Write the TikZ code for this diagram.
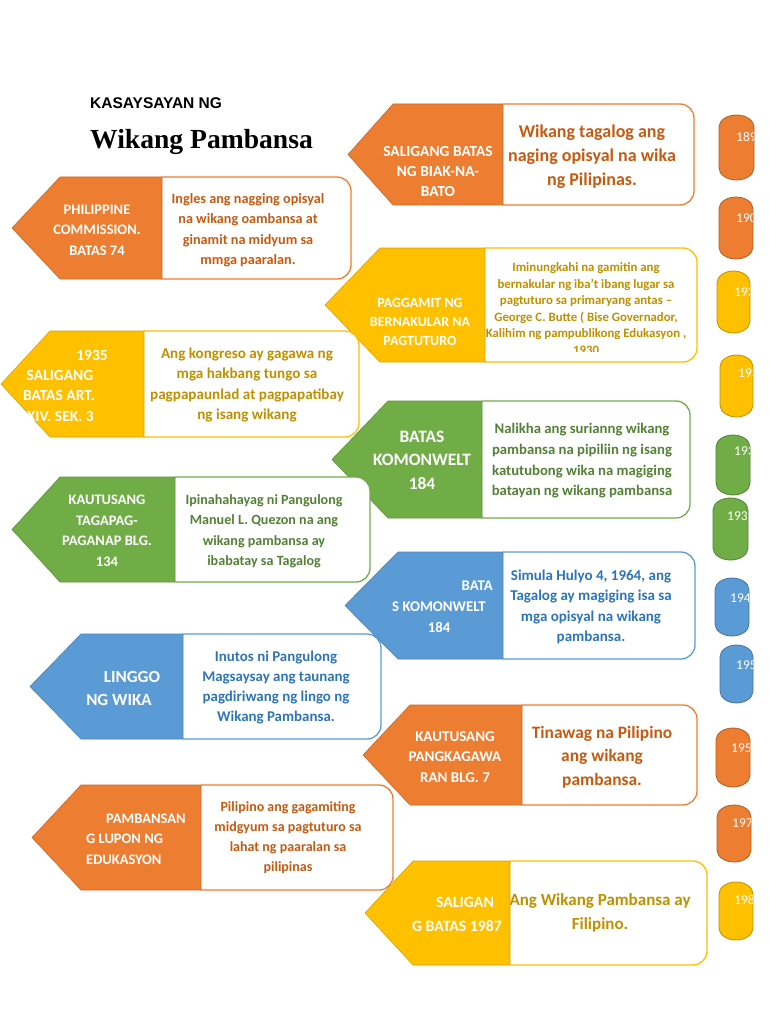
\documentclass[tikz,border=0pt]{standalone}
\usepackage{fontspec}
\setmainfont{Carlito}
\newfontfamily\kfont{Liberation Sans}
\newfontfamily\titlefont{Liberation Serif}
\definecolor{cOr}{HTML}{ED7D31}
\definecolor{cOrT}{HTML}{C55A11}
\definecolor{cYe}{HTML}{FFC000}
\definecolor{cYeT}{HTML}{BF9000}
\definecolor{cGr}{HTML}{70AD47}
\definecolor{cGrT}{HTML}{538135}
\definecolor{cBl}{HTML}{5B9BD5}
\definecolor{cBlT}{HTML}{2E75B6}
\tikzset{
  ctext/.style={text=white, font=\bfseries\fontsize{14.5}{20.5}\selectfont, align=center, inner sep=0pt},
  ctextbig/.style={text=white, font=\bfseries\fontsize{17}{23.5}\selectfont, align=center, inner sep=0pt},
  wtext/.style={font=\bfseries\fontsize{14.5}{20.5}\selectfont, align=center, inner sep=0pt},
  wtextbig/.style={font=\bfseries\fontsize{17.5}{24}\selectfont, align=center, inner sep=0pt},
  ytext/.style={text=white, font=\fontsize{13.5}{15}\selectfont, inner sep=0pt, anchor=west},
  wbox/.style={line width=1.3pt, fill=white, rounded corners=14pt},
  arrowpart/.style={line width=0.6pt},
}
% #1 point x, #2 colour top-left x, #3 colour right x, #4 white right x, #5 top, #6 bottom, #7 colour
\newcommand\tlblock[7]{%
  \path[wbox, draw=#7] (#3,#6) -- (#4,#6) -- (#4,#5) -- (#3,#5);
  \path[arrowpart, fill=#7, draw=#7!85!black] (#1,{(#5+#6)/2}) -- (#2,#5) -- (#3,#5) -- (#3,#6) -- (#2,#6) -- cycle;
}
% #1 left, #2 right, #3 top, #4 bottom, #5 colour, #6 name, #7 text x, #8 text y, #9 year
\newcommand\yearcan[9]{%
  \begin{scope}
    \path[fill=#5, draw=#5!75!black, line width=0.8pt] (#1,#3+12) arc[start angle=180, end angle=360, x radius={(#2-#1)/2}, y radius=12] -- (#2,#4-12) arc[start angle=0, end angle=180, x radius={(#2-#1)/2}, y radius=12] -- cycle;
    \clip (#1,#3) rectangle (#2-0.5,#4);
    \node[ytext] (#6) at (#7,#8) {#9};
  \end{scope}
}
\begin{document}
\begin{tikzpicture}[x=1pt,y=-1pt]
\useasboundingbox[fill=white] (0,0) rectangle (768,1024);

% title
\node[font=\kfont\bfseries\fontsize{15.5}{17}\selectfont, anchor=west, inner sep=0pt] (t1) at (90,103) {KASAYSAYAN NG};
\node[font=\titlefont\bfseries\fontsize{27.6}{32}\selectfont, anchor=west, inner sep=0pt] (t2) at (90,142) {Wikang Pambansa};

% B1
\tlblock{348}{393}{503}{694}{104}{205}{cOr}
\node[ctext, font=\bfseries\fontsize{15.4}{20}\selectfont] (b1c) at (438,172) {SALIGANG BATAS\\NG BIAK-NA-\\BATO};
\node[wtextbig, font=\bfseries\fontsize{18}{24}\selectfont, text=cOrT] (b1w) at (592,157) {Wikang tagalog ang\\naging opisyal na wika\\ng Pilipinas.};

% B2
\tlblock{12}{60}{162}{351}{177}{279}{cOr}
\node[ctext] (b2c) at (97,230) {PHILIPPINE\\COMMISSION.\\BATAS 74};
\node[wtext, font=\bfseries\fontsize{14.2}{20.5}\selectfont, text=cOrT] (b2w) at (248,230) {Ingles ang nagging opisyal\\na wikang oambansa at\\ginamit na midyum sa\\mmga paaralan.};

% B3
\tlblock{325}{380}{485}{697}{248}{362}{cYe}
\node[ctext, font=\bfseries\fontsize{14}{19}\selectfont] (b3c) at (420,322) {PAGGAMIT NG\\BERNAKULAR NA\\PAGTUTURO};
\begin{scope}
\clip (486,249) rectangle (696,351);
\node[font=\bfseries\fontsize{12.8}{16.6}\selectfont, align=center, inner sep=0pt, text=cYeT] (b3w) at (586,308.5) {Iminungkahi na gamitin ang\\bernakular ng iba’t ibang lugar sa\\pagtuturo sa primaryang antas --\\George C. Butte ( Bise Governador,\\Kalihim ng pampublikong Edukasyon ,\\1930};
\end{scope}

% B4
\tlblock{1}{50}{144}{359}{331}{437}{cYe}
\node[ctext, font=\bfseries\fontsize{15.5}{20}\selectfont] (b4a) at (92,355) {1935};
\node[ctext, font=\bfseries\fontsize{15.5}{20}\selectfont] (b4b) at (60,375) {SALIGANG};
\node[ctext, font=\bfseries\fontsize{15.5}{20}\selectfont] (b4c) at (59,395) {BATAS ART.};
\begin{scope}
\clip (27,405) rectangle (140,430);
\node[ctext, font=\bfseries\fontsize{15.5}{20}\selectfont, anchor=east] (b4d) at (94,416) {XIV. SEK. 3};
\end{scope}
\node[wtext, font=\bfseries\fontsize{15.1}{20.5}\selectfont, text=cYeT] (b4w) at (247,385) {Ang kongreso ay gagawa ng\\mga hakbang tungo sa\\pagpapaunlad at pagpapatibay\\ng isang wikang};

% B5
\tlblock{332}{388}{482}{690}{401}{518}{cGr}
\node[ctextbig, font=\bfseries\fontsize{17.4}{23.5}\selectfont] (b5c) at (422,460) {BATAS\\KOMONWELT\\184};
\node[wtext, font=\bfseries\fontsize{14.7}{20.7}\selectfont, text=cGrT] (b5w) at (582,461) {Nalikha ang surianng wikang\\pambansa na pipiliin ng isang\\katutubong wika na magiging\\batayan ng wikang pambansa};

% B6
\tlblock{12}{60}{175}{370}{477}{582}{cGr}
\node[ctext] (b6c) at (107,531) {KAUTUSANG\\TAGAPAG-\\PAGANAP BLG.\\134};
\node[wtext, font=\bfseries\fontsize{14.1}{20.5}\selectfont, text=cGrT] (b6w) at (264,531) {Ipinahahayag ni Pangulong\\Manuel L. Quezon na ang\\wikang pambansa ay\\ibabatay sa Tagalog};

% B7
\tlblock{345}{398}{503}{695}{552}{659}{cBl}
\node[ctext, font=\bfseries\fontsize{14.8}{20}\selectfont, anchor=east] (b7a) at (493,586) {BATA};
\node[ctext, font=\bfseries\fontsize{14.8}{20.5}\selectfont] (b7b) at (439,617) {S KOMONWELT\\184};
\node[wtext, font=\bfseries\fontsize{15}{20.5}\selectfont, text=cBlT] (b7w) at (591,607) {Simula Hulyo 4, 1964, ang\\Tagalog ay magiging isa sa\\mga opisyal na wikang\\pambansa.};

% B8
\tlblock{30}{81}{183}{381}{634}{739}{cBl}
\node[ctextbig] (b8a) at (132,677) {LINGGO};
\node[ctextbig] (b8b) at (119,700) {NG WIKA};
\node[wtext, font=\bfseries\fontsize{14.9}{20}\selectfont, text=cBlT] (b8w) at (276,688) {Inutos ni Pangulong\\Magsaysay ang taunang\\pagdiriwang ng lingo ng\\Wikang Pambansa.};

% B9
\tlblock{363}{410}{522}{697}{705}{805}{cOr}
\node[ctext, font=\bfseries\fontsize{15}{20.5}\selectfont] (b9c) at (455,757) {KAUTUSANG\\PANGKAGAWA\\RAN BLG. 7};
\node[wtextbig, font=\bfseries\fontsize{17.4}{23.5}\selectfont, text=cOrT] (b9w) at (602,757) {Tinawag na Pilipino\\ang wikang\\pambansa.};

% B10
\tlblock{32}{81}{201}{393}{785}{890}{cOr}
\node[ctext, anchor=west] (b10a) at (106,819) {PAMBANSAN};
\node[ctext, anchor=west] (b10b) at (86,839) {G LUPON NG};
\node[ctext, anchor=west] (b10c) at (86,860) {EDUKASYON};
\node[wtext, font=\bfseries\fontsize{14}{20}\selectfont, text=cOrT] (b10w) at (288,838) {Pilipino ang gagamiting\\midgyum sa pagtuturo sa\\lahat ng paaralan sa\\pilipinas};

% B11
\path[wbox, draw=cYe] (510,965) -- (707,965) -- (707,861) -- (510,861);
\node[wtextbig, font=\bfseries\fontsize{17}{24}\selectfont, text=cYeT] (b11w) at (600,913) {Ang Wikang Pambansa ay\\Filipino.};
\path[arrowpart, fill=cYe, draw=cYe!85!black] (365,913) -- (413,861) -- (510,861) -- (510,965) -- (413,965) -- cycle;
\node[ctextbig, font=\bfseries\fontsize{15.8}{24}\selectfont] (b11a) at (465,902) {SALIGAN};
\node[ctextbig, font=\bfseries\fontsize{15.8}{24}\selectfont] (b11b) at (457,926) {G BATAS 1987};

% year cans
\yearcan{719}{754}{115}{180}{cOr}{y1}{736}{137}{1897}
\yearcan{719}{753}{197}{259}{cOr}{y2}{736}{218}{1901}
\yearcan{717}{750}{271}{333}{cYe}{y3}{734}{292}{1931}
\yearcan{720}{753}{355}{417}{cYe}{y4}{738}{373}{1935}
\yearcan{716}{750}{435}{495}{cGr}{y5}{734}{451}{1936}
\yearcan{713}{748}{498}{560}{cGr}{y6}{727}{516}{1937}
\yearcan{715}{749}{578}{636}{cBl}{y7}{730}{598}{1940}
\yearcan{720}{753}{645}{703}{cBl}{y8}{736}{665}{1954}
\yearcan{716}{750}{728}{787}{cOr}{y9}{731}{748}{1959}
\yearcan{717}{751}{805}{862}{cOr}{y10}{732}{823}{1974}
\yearcan{719}{753}{882}{940}{cYe}{y11}{734}{900}{1987}
\end{tikzpicture}
\end{document}
